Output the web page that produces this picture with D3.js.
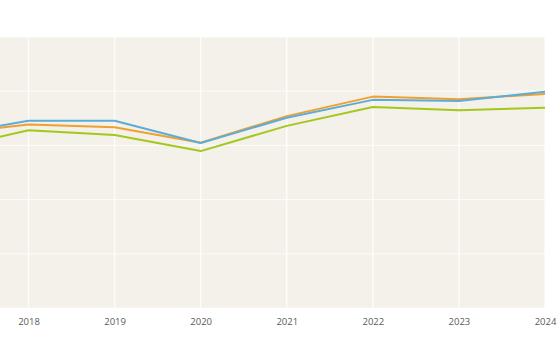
<!DOCTYPE html>
<html>
<head>
<meta charset="utf-8">
<script src="https://cdn.jsdelivr.net/npm/d3@7"></script>
<style>
  html, body { margin: 0; padding: 0; background: #ffffff; }
  svg { display: block; }
</style>
</head>
<body>
<div id="chart"></div>
<script>
const years = [2017, 2018, 2019, 2020, 2021, 2022, 2023, 2024];
const tickYears = [2018, 2019, 2020, 2021, 2022, 2023, 2024];
const seriesGreen  = [58.3, 65.6, 63.8, 57.9, 67.2, 74.2, 73.0, 73.9];
const seriesOrange = [64.2, 67.7, 66.7, 61.0, 70.8, 78.0, 77.0, 79.0];
const seriesBlue   = [63.5, 69.1, 69.1, 60.9, 70.2, 76.8, 76.4, 79.8];
const yTicks = [0, 20, 40, 60, 80, 100];

const series = [
  { name: "green",  values: seriesGreen,  color: "#a5c71c" },
  { name: "orange", values: seriesOrange, color: "#f0a02e" },
  { name: "blue",   values: seriesBlue,   color: "#5badd8" }
];

const W = 560, H = 350;
const panel = { left: 0, right: 545, top: 37, bottom: 308 };

const svg = d3.select("#chart").append("svg")
  .attr("width", W).attr("height", H);

const x = d3.scaleLinear().domain([2018, 2024]).range([28.5, panel.right]);
const y = d3.scaleLinear().domain([0, 100]).range([panel.bottom, panel.top]);

svg.append("defs").append("clipPath").attr("id", "clip")
  .append("rect")
  .attr("x", panel.left).attr("y", panel.top)
  .attr("width", panel.right - panel.left).attr("height", panel.bottom - panel.top);

svg.append("rect")
  .attr("x", panel.left).attr("y", panel.top)
  .attr("width", panel.right - panel.left).attr("height", panel.bottom - panel.top)
  .attr("fill", "#f4f0ea");

const grid = svg.append("g").attr("clip-path", "url(#clip)");
grid.selectAll("line.h").data(yTicks).join("line")
  .attr("class", "h")
  .attr("x1", panel.left).attr("x2", panel.right)
  .attr("y1", d => y(d)).attr("y2", d => y(d))
  .attr("stroke", "#ffffff").attr("stroke-opacity", 0.7).attr("stroke-width", 1.2);
grid.selectAll("line.v").data(tickYears).join("line")
  .attr("class", "v")
  .attr("x1", d => x(d)).attr("x2", d => x(d))
  .attr("y1", panel.top).attr("y2", panel.bottom)
  .attr("stroke", "#ffffff").attr("stroke-opacity", 0.8).attr("stroke-width", 1.5);

const line = d3.line()
  .x((d, i) => x(years[i]))
  .y(d => y(d));

svg.append("g").attr("clip-path", "url(#clip)")
  .selectAll("path").data(series).join("path")
  .attr("d", d => line(d.values))
  .attr("fill", "none")
  .attr("stroke", d => d.color)
  .attr("stroke-width", 2)
  .attr("stroke-linejoin", "round");

const xAxis = d3.axisBottom(x).tickValues(tickYears).tickFormat(d3.format("d")).tickSize(0).tickPadding(0);
const ax = svg.append("g").attr("transform", `translate(0,${panel.bottom})`).call(xAxis);
ax.select(".domain").remove();
ax.selectAll("text")
  .attr("dy", null)
  .attr("y", 17)
  .attr("fill", "#5a5a5a")
  .style("font-family", "'Open Sans', sans-serif")
  .style("font-size", "9.5px");
</script>
</body>
</html>
